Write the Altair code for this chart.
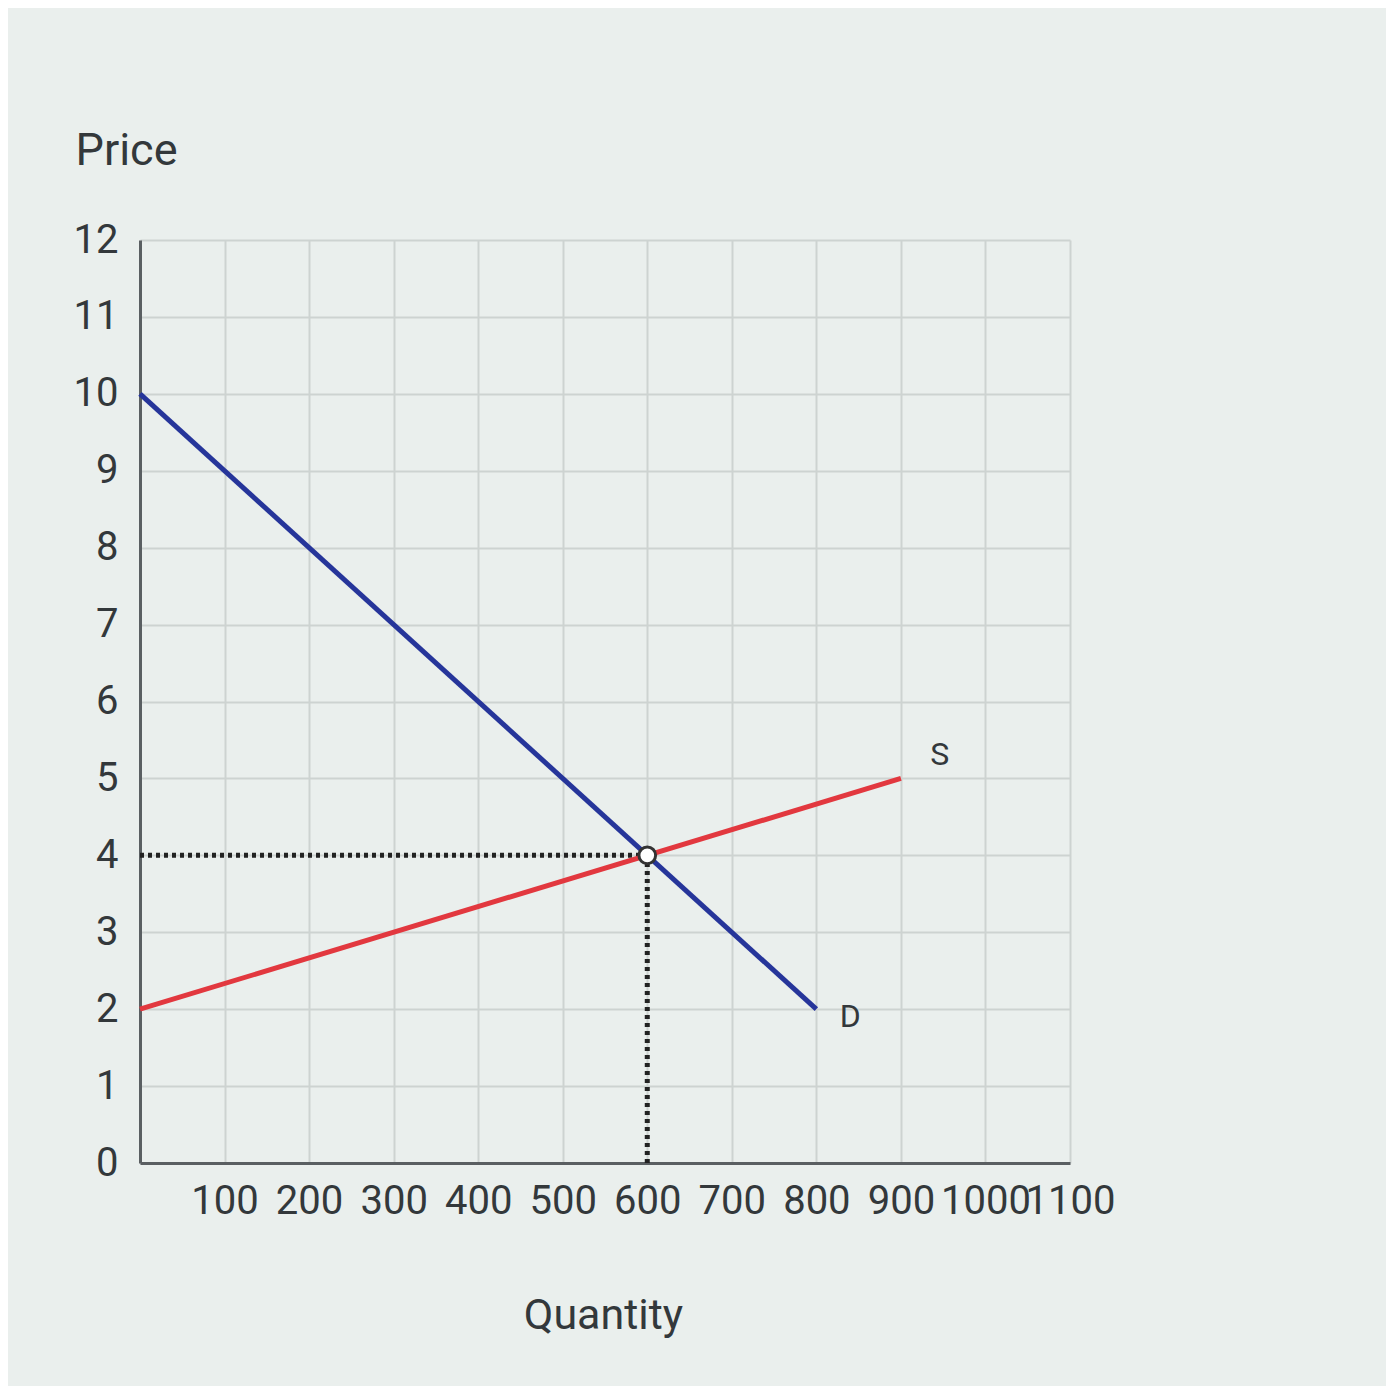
import altair as alt
import pandas as pd

# Data
demand_q = [0, 800]
demand_p = [10, 2]
supply_q = [0, 900]
supply_p = [2, 5]
eq_q = [600]
eq_p = [4]
x_ticks = [100, 200, 300, 400, 500, 600, 700, 800, 900, 1000, 1100]
y_ticks = list(range(0, 13))
label_names = ["S", "D"]
label_q = [946, 840]
label_p = [5.3, 1.9]

FONT = "Roboto"
TXT = "#33383b"

lines = pd.DataFrame({
    "q": demand_q + supply_q,
    "p": demand_p + supply_p,
    "curve": ["D", "D", "S", "S"],
})
guides = pd.DataFrame({
    "q": [0, eq_q[0]],
    "q2": [eq_q[0], eq_q[0]],
    "p": [eq_p[0], 0],
    "p2": [eq_p[0], eq_p[0]],
})
eq = pd.DataFrame({"q": eq_q, "p": eq_p})
labels = pd.DataFrame({"name": label_names, "q": label_q, "p": label_p})

xs = alt.Scale(domain=[0, 1100], nice=False, zero=True)
ys = alt.Scale(domain=[0, 12], nice=False, zero=True)

x_axis = alt.Axis(
    values=x_ticks, title="Quantity", grid=True, ticks=False, format="d",
    labelFontSize=40, labelPadding=18, labelOverlap=False, labelBound=False,
    labelFlush=False, labelColor=TXT, labelFont=FONT, labelFontWeight="normal",
    titleFont=FONT, titleFontSize=43, titleFontWeight="normal", titleColor=TXT,
    titleX=463, titleY=152, titleBaseline="middle",
    domainColor="#5a5f62", domainWidth=3, gridColor="#cdd3d1", gridWidth=2,
)
y_axis = alt.Axis(
    values=y_ticks, title="Price", grid=True, ticks=False, format="d",
    labelFontSize=40, labelPadding=22, labelOverlap=False, labelBound=False,
    labelFlush=False, labelColor=TXT, labelFont=FONT, labelFontWeight="normal",
    titleFont=FONT, titleFontSize=45, titleFontWeight="normal", titleColor=TXT,
    titleAngle=0, titleX=-65, titleY=-90, titleAlign="left", titleBaseline="middle",
    domainColor="#5a5f62", domainWidth=3, gridColor="#cdd3d1", gridWidth=2,
)

base_x = alt.X("q:Q", scale=xs, axis=x_axis)
base_y = alt.Y("p:Q", scale=ys, axis=y_axis)

guide_rules = alt.Chart(guides).mark_rule(
    color="#222", strokeWidth=5, strokeDash=[4, 4]
).encode(x=base_x, x2="q2:Q", y=base_y, y2="p2:Q")

curve_lines = alt.Chart(lines).mark_line(strokeWidth=5).encode(
    x=base_x, y=base_y, detail="curve:N",
    color=alt.Color("curve:N", scale=alt.Scale(domain=["D", "S"], range=["#26359a", "#e2383f"]), legend=None),
)

point = alt.Chart(eq).mark_point(
    filled=True, fill="white", stroke="#333", strokeWidth=3, size=280, opacity=1
).encode(x=base_x, y=base_y)

text = alt.Chart(labels).mark_text(
    fontSize=32, font=FONT, fontWeight="normal", color=TXT, align="center", baseline="middle"
).encode(x=base_x, y=base_y, text="name:N")

chart = alt.layer(guide_rules, curve_lines, point, text).properties(
    width=930, height=923,
    autosize=alt.AutoSizeParams(type="none"),
    padding={"left": 132, "top": 232, "right": 316, "bottom": 223},
    background="#eaefed",
).configure_view(stroke=None)

chart.save("out.html", embed_options={"renderer": "svg", "actions": False})
